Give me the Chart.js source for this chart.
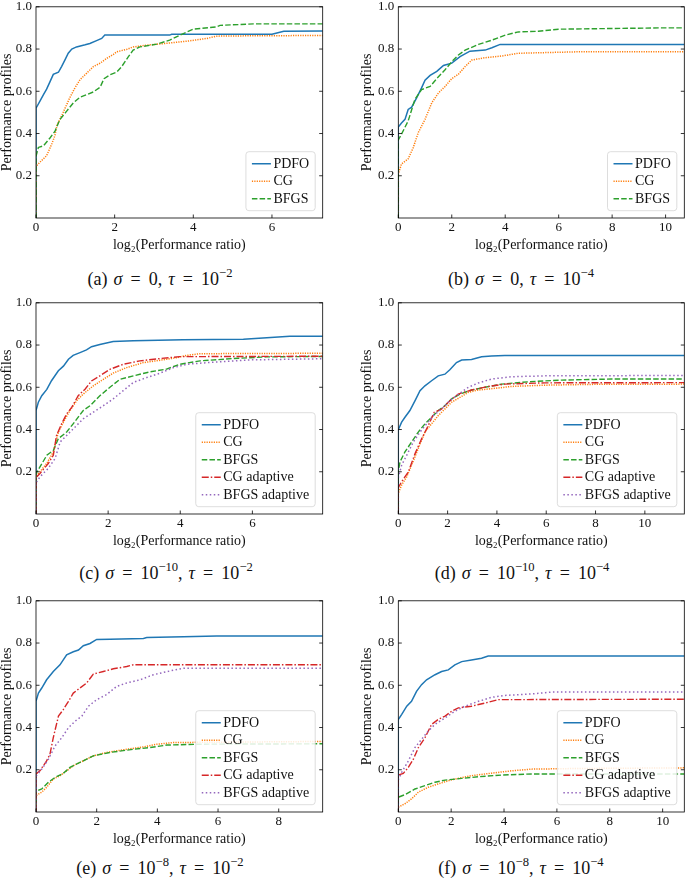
<!DOCTYPE html>
<html>
<head>
<meta charset="utf-8">
<script src="https://cdn.jsdelivr.net/npm/chart.js@4.4.1/dist/chart.umd.min.js"></script>
<style>
  body { margin: 0; background: #fff; width: 685px; height: 881px; position: relative; overflow: hidden; font-family: "Liberation Serif", serif; }
  .panel { position: absolute; }
  .cap { position: absolute; transform: translate(-50%, -50%); font-size: 18px; word-spacing: 0.08em; white-space: nowrap; color: #111; }
  .cap sup { font-size: 0.7em; vertical-align: 0.6em; line-height: 0; word-spacing: 0; }
  .cap .eq { margin: 0 0.12em; }
</style>
</head>
<body>
<canvas id="pa" class="panel" width="340" height="263" style="left:0;top:-5.3px"></canvas>
<canvas id="pb" class="panel" width="325" height="263" style="left:360px;top:-5.3px"></canvas>
<canvas id="pc" class="panel" width="340" height="263" style="left:0;top:291.4px"></canvas>
<canvas id="pd" class="panel" width="325" height="263" style="left:360px;top:291.4px"></canvas>
<canvas id="pe" class="panel" width="340" height="263" style="left:0;top:589.3px"></canvas>
<canvas id="pf" class="panel" width="325" height="263" style="left:360px;top:589.3px"></canvas>

<div class="cap" style="left:160px;top:279px">(a) <i>σ</i> <span class="eq">=</span> 0, <i>τ</i> <span class="eq">=</span> 10<sup>−2</sup></div>
<div class="cap" style="left:521px;top:279px">(b) <i>σ</i> <span class="eq">=</span> 0, <i>τ</i> <span class="eq">=</span> 10<sup>−4</sup></div>
<div class="cap" style="left:166px;top:572.7px">(c) <i>σ</i> <span class="eq">=</span> 10<sup>−10</sup>, <i>τ</i> <span class="eq">=</span> 10<sup>−2</sup></div>
<div class="cap" style="left:522px;top:572.7px">(d) <i>σ</i> <span class="eq">=</span> 10<sup>−10</sup>, <i>τ</i> <span class="eq">=</span> 10<sup>−4</sup></div>
<div class="cap" style="left:160px;top:868.3px">(e) <i>σ</i> <span class="eq">=</span> 10<sup>−8</sup>, <i>τ</i> <span class="eq">=</span> 10<sup>−2</sup></div>
<div class="cap" style="left:521px;top:868.3px">(f) <i>σ</i> <span class="eq">=</span> 10<sup>−8</sup>, <i>τ</i> <span class="eq">=</span> 10<sup>−4</sup></div>

<script>
// solver names and tick labels
const names3 = ["PDFO", "CG", "BFGS"];
const names5 = ["PDFO", "CG", "BFGS", "CG adaptive", "BFGS adaptive"];
const yTicks = [0.2, 0.4, 0.6, 0.8, 1.0];
const xTicksA = [0, 2, 4, 6];
const xTicksB = [0, 2, 4, 6, 8, 10];
const xTicksC = [0, 2, 4, 6];
const xTicksD = [0, 2, 4, 6, 8, 10];
const xTicksE = [0, 2, 4, 6, 8];
const xTicksF = [0, 2, 4, 6, 8, 10];

// (a) sigma = 0, tau = 1e-2   points are [log2 ratio, profile]
const pdfoA = [[0,0],[0,0.52],[0.1,0.553],[0.19,0.584],[0.27,0.61],[0.36,0.647],[0.44,0.68],[0.57,0.69],[0.65,0.717],[0.74,0.75],[0.82,0.78],[0.91,0.80],[1.03,0.81],[1.25,0.82],[1.37,0.826],[1.54,0.84],[1.67,0.85],[1.75,0.866],[3.4,0.866],[3.45,0.87],[6.0,0.87],[6.3,0.884],[7.29,0.886]];
const cgA = [[0,0],[0,0.245],[0.1,0.264],[0.27,0.295],[0.4,0.35],[0.48,0.39],[0.54,0.444],[0.61,0.467],[0.74,0.52],[0.86,0.57],[0.99,0.616],[1.12,0.655],[1.29,0.686],[1.46,0.717],[1.63,0.733],[1.8,0.756],[1.97,0.775],[2.05,0.787],[2.3,0.798],[2.47,0.81],[2.9,0.82],[3.32,0.827],[3.83,0.837],[4.34,0.85],[4.59,0.861],[5.6,0.863],[7.29,0.864]];
const bfgsA = [[0,0],[0,0.292],[0.06,0.334],[0.19,0.342],[0.36,0.38],[0.48,0.41],[0.61,0.467],[0.78,0.506],[0.95,0.545],[1.12,0.572],[1.29,0.584],[1.46,0.597],[1.63,0.619],[1.73,0.66],[1.88,0.678],[2.05,0.69],[2.18,0.717],[2.35,0.764],[2.47,0.795],[2.64,0.81],[3.07,0.823],[3.4,0.842],[3.66,0.866],[4.0,0.894],[4.59,0.905],[4.68,0.912],[5.53,0.919],[7.29,0.919]];

// (b) sigma = 0, tau = 1e-4
const pdfoB = [[0,0],[0,0.431],[0.12,0.45],[0.25,0.467],[0.37,0.514],[0.5,0.525],[0.69,0.57],[0.87,0.616],[1.0,0.652],[1.19,0.675],[1.44,0.694],[1.69,0.722],[2.0,0.733],[2.31,0.764],[2.68,0.79],[3.25,0.795],[3.5,0.806],[3.81,0.822],[10.7,0.822]];
const cgB = [[0,0],[0,0.209],[0.12,0.256],[0.37,0.28],[0.56,0.334],[0.75,0.405],[1.0,0.467],[1.25,0.545],[1.5,0.592],[1.75,0.623],[2.0,0.66],[2.25,0.681],[2.5,0.717],[2.75,0.748],[3.25,0.759],[3.87,0.767],[4.49,0.78],[6.74,0.787],[10.7,0.787]];
const bfgsB = [[0,0],[0,0.37],[0.12,0.397],[0.37,0.46],[0.62,0.561],[0.87,0.608],[1.19,0.623],[1.44,0.66],[1.75,0.702],[2.0,0.74],[2.25,0.772],[2.5,0.795],[3.0,0.822],[3.5,0.842],[4.0,0.866],[4.49,0.881],[5.24,0.884],[5.99,0.894],[9.74,0.9],[10.7,0.9]];

// (c) sigma = 1e-10, tau = 1e-2
const pdfoC = [[0,0],[0,0.49],[0.065,0.529],[0.16,0.56],[0.3,0.59],[0.43,0.631],[0.62,0.678],[0.76,0.70],[0.9,0.733],[1.03,0.751],[1.22,0.764],[1.4,0.777],[1.54,0.792],[1.77,0.803],[2.14,0.817],[2.7,0.82],[4.08,0.825],[5.75,0.827],[6.4,0.834],[7.04,0.842],[7.95,0.842]];
const cgC = [[0,0],[0,0.18],[0.11,0.2],[0.3,0.24],[0.48,0.294],[0.62,0.388],[0.76,0.435],[0.94,0.49],[1.13,0.537],[1.31,0.568],[1.59,0.607],[1.87,0.638],[2.14,0.667],[2.51,0.693],[2.98,0.717],[3.44,0.728],[3.9,0.74],[4.18,0.751],[4.55,0.759],[7.95,0.761]];
const bfgsC = [[0,0],[0,0.192],[0.11,0.223],[0.3,0.278],[0.48,0.301],[0.62,0.357],[0.85,0.388],[1.03,0.427],[1.31,0.49],[1.5,0.513],[1.77,0.56],[2.05,0.6],[2.33,0.638],[2.7,0.654],[3.16,0.673],[3.62,0.686],[3.99,0.709],[4.55,0.725],[5.47,0.736],[6.4,0.744],[7.95,0.746]];
const cgAdC = [[0,0],[0,0.172],[0.11,0.192],[0.34,0.239],[0.48,0.278],[0.57,0.372],[0.71,0.427],[0.85,0.474],[0.99,0.505],[1.17,0.56],[1.36,0.591],[1.54,0.63],[1.77,0.654],[2.05,0.685],[2.42,0.709],[2.88,0.725],[3.44,0.736],[3.99,0.745],[7.95,0.747]];
const bfgsAdC = [[0,0],[0,0.148],[0.11,0.176],[0.34,0.216],[0.53,0.263],[0.67,0.341],[0.85,0.372],[1.08,0.411],[1.31,0.451],[1.59,0.482],[1.87,0.513],[2.14,0.545],[2.42,0.584],[2.7,0.623],[3.07,0.646],[3.44,0.667],[3.81,0.693],[4.18,0.709],[5.01,0.72],[6.0,0.73],[7.95,0.735]];

// (d) sigma = 1e-10, tau = 1e-4
const pdfoD = [[0,0],[0,0.399],[0.135,0.435],[0.27,0.458],[0.47,0.49],[0.68,0.537],[0.88,0.584],[1.08,0.607],[1.35,0.631],[1.62,0.654],[1.89,0.662],[2.09,0.683],[2.36,0.717],[2.57,0.729],[2.97,0.732],[3.38,0.745],[3.78,0.748],[4.32,0.751],[11.6,0.751]];
const cgD = [[0,0],[0,0.098],[0.135,0.137],[0.34,0.176],[0.54,0.231],[0.81,0.31],[1.08,0.388],[1.35,0.427],[1.62,0.466],[1.89,0.497],[2.16,0.529],[2.5,0.552],[2.84,0.576],[3.24,0.587],[3.92,0.595],[4.59,0.604],[5.95,0.61],[8.0,0.614],[11.6,0.615]];
const bfgsD = [[0,0],[0,0.203],[0.07,0.247],[0.27,0.294],[0.54,0.341],[0.81,0.388],[1.08,0.427],[1.35,0.458],[1.62,0.49],[1.89,0.513],[2.16,0.545],[2.5,0.568],[2.97,0.587],[3.51,0.6],[4.19,0.615],[5.27,0.626],[6.62,0.634],[8.65,0.639],[11.6,0.639]];
const cgAdD = [[0,0],[0,0.125],[0.135,0.153],[0.41,0.2],[0.68,0.286],[0.95,0.357],[1.22,0.42],[1.46,0.482],[1.76,0.497],[2.03,0.529],[2.43,0.568],[2.97,0.587],[3.65,0.604],[4.32,0.615],[5.95,0.621],[11.6,0.622]];
const bfgsAdD = [[0,0],[0,0.172],[0.135,0.231],[0.34,0.278],[0.61,0.341],[0.88,0.388],[1.15,0.427],[1.42,0.466],[1.76,0.497],[2.09,0.537],[2.5,0.572],[2.84,0.6],[3.24,0.62],[3.78,0.639],[4.59,0.65],[5.95,0.654],[11.6,0.656]];

// (e) sigma = 1e-8, tau = 1e-2
const pdfoE = [[0,0],[0,0.524],[0.08,0.563],[0.19,0.587],[0.35,0.626],[0.57,0.665],[0.79,0.697],[1.01,0.744],[1.23,0.759],[1.4,0.767],[1.56,0.787],[1.78,0.798],[2.0,0.817],[2.44,0.818],[3.54,0.822],[3.65,0.826],[4.86,0.83],[5.96,0.833],[9.45,0.833]];
const cgE = [[0,0],[0,0.078],[0.19,0.094],[0.35,0.117],[0.57,0.156],[0.79,0.172],[1.01,0.195],[1.23,0.219],[1.56,0.242],[1.89,0.266],[2.33,0.282],[2.99,0.297],[3.54,0.308],[3.98,0.321],[4.53,0.329],[9.45,0.334]];
const bfgsE = [[0,0],[0,0.098],[0.19,0.109],[0.41,0.141],[0.63,0.164],[0.9,0.183],[1.12,0.211],[1.45,0.235],[1.89,0.266],[2.44,0.282],[3.21,0.297],[3.76,0.305],[4.31,0.317],[5.41,0.321],[9.45,0.323]];
const cgAdE = [[0,0],[0,0.18],[0.13,0.195],[0.35,0.242],[0.46,0.274],[0.57,0.352],[0.74,0.454],[0.9,0.485],[1.07,0.524],[1.23,0.563],[1.45,0.587],[1.67,0.611],[1.89,0.653],[2.22,0.665],[2.55,0.678],[2.99,0.689],[3.21,0.697],[9.45,0.697]];
const bfgsAdE = [[0,0],[0,0.17],[0.19,0.203],[0.41,0.25],[0.63,0.313],[0.85,0.352],[1.07,0.399],[1.29,0.43],[1.51,0.454],[1.73,0.501],[2.0,0.532],[2.33,0.556],[2.66,0.595],[2.99,0.611],[3.43,0.626],[3.87,0.65],[4.42,0.668],[4.86,0.681],[9.45,0.681]];

// (f) sigma = 1e-8, tau = 1e-4
const pdfoF = [[0,0],[0,0.438],[0.13,0.462],[0.32,0.501],[0.5,0.524],[0.69,0.571],[0.88,0.603],[1.07,0.626],[1.39,0.65],[1.64,0.665],[1.89,0.673],[2.14,0.697],[2.4,0.712],[2.77,0.72],[3.15,0.728],[3.4,0.739],[10.82,0.739]];
const cgF = [[0,0],[0,0.023],[0.25,0.039],[0.5,0.062],[0.76,0.094],[1.13,0.117],[1.51,0.133],[2.02,0.153],[2.77,0.172],[3.53,0.184],[4.29,0.195],[5.04,0.203],[6.81,0.206],[10.82,0.209]];
const bfgsF = [[0,0],[0,0.07],[0.25,0.082],[0.63,0.109],[1.01,0.125],[1.39,0.141],[1.77,0.151],[2.4,0.159],[3.03,0.167],[3.91,0.175],[5.04,0.18],[10.82,0.18]];
const cgAdF = [[0,0],[0,0.175],[0.19,0.183],[0.38,0.211],[0.57,0.25],[0.76,0.305],[1.01,0.352],[1.26,0.415],[1.51,0.438],[1.77,0.454],[2.02,0.477],[2.27,0.493],[2.77,0.501],[3.28,0.516],[3.78,0.532],[10.82,0.534]];
const bfgsAdF = [[0,0],[0,0.153],[0.13,0.188],[0.38,0.242],[0.63,0.305],[0.88,0.344],[1.13,0.383],[1.39,0.415],[1.77,0.446],[2.14,0.477],[2.52,0.501],[3.03,0.524],[3.53,0.543],[4.04,0.552],[5.04,0.559],[5.8,0.568],[10.82,0.568]];

const FONT = '"Liberation Serif", "DejaVu Serif", serif';
const INK = '#111';
Chart.defaults.font.family = FONT;
Chart.defaults.color = INK;

// line style per solver, same order as names5
const styles = [
  { color: '#1f77b4', dash: [], width: 1.5 },
  { color: '#ff7f0e', dash: [1.2, 1.2], width: 1.5 },
  { color: '#2ca02c', dash: [5.5, 2.2], width: 1.4 },
  { color: '#d62728', dash: [7, 2, 1.5, 2], width: 1.4 },
  { color: '#9467bd', dash: [1.5, 2.5], width: 1.5 }
];

// frame, inward ticks and a matplotlib-like legend in the lower right
const framePlugin = {
  id: 'frame',
  afterDraw(chart) {
    const { ctx, chartArea: a, scales: { x, y } } = chart;
    ctx.save();
    ctx.strokeStyle = '#000';
    ctx.lineWidth = 0.8;
    ctx.setLineDash([]);
    ctx.strokeRect(a.left, a.top, a.right - a.left, a.bottom - a.top);
    ctx.beginPath();
    x.ticks.forEach(t => {
      const px = x.getPixelForValue(t.value);
      ctx.moveTo(px, a.bottom); ctx.lineTo(px, a.bottom - 3.5);
    });
    y.ticks.forEach(t => {
      const py = y.getPixelForValue(t.value);
      ctx.moveTo(a.left, py); ctx.lineTo(a.left + 3.5, py);
      ctx.moveTo(a.right, py); ctx.lineTo(a.right - 3.5, py);
    });
    ctx.stroke();

    // legend
    const sets = chart.data.datasets;
    ctx.font = '14px ' + FONT;
    const tw = Math.max(...sets.map(d => ctx.measureText(d.label).width));
    const rowH = 17.5, padX = 6, hLen = 19;
    const w = padX + hLen + 2.5 + tw + padX;
    const h = sets.length * rowH + 6.5;
    const bx = a.right - 7.5 - w, by = a.bottom - 7.3 - h;
    ctx.beginPath();
    ctx.roundRect(bx, by, w, h, 3);
    ctx.fillStyle = 'rgba(255,255,255,0.85)';
    ctx.fill();
    ctx.strokeStyle = '#d4d4d4';
    ctx.lineWidth = 0.8;
    ctx.stroke();
    sets.forEach((d, i) => {
      const cy = by + 3.3 + rowH * i + rowH / 2;
      ctx.beginPath();
      ctx.setLineDash(d.borderDash);
      ctx.strokeStyle = d.borderColor;
      ctx.lineWidth = d.borderWidth;
      ctx.moveTo(bx + padX, cy);
      ctx.lineTo(bx + padX + hLen, cy);
      ctx.stroke();
      ctx.setLineDash([]);
      ctx.fillStyle = INK;
      ctx.textBaseline = 'middle';
      ctx.textAlign = 'left';
      ctx.fillText(d.label, bx + padX + hLen + 2.5, cy + 0.5);
    });
    ctx.restore();
  }
};

function makeChart(id, names, series, xTicks, xMax, yWidth, padRight) {
  const datasets = series.map((pts, i) => ({
    label: names[i],
    data: pts.map(p => ({ x: p[0], y: p[1] })),
    borderColor: styles[i].color,
    borderDash: styles[i].dash,
    borderWidth: styles[i].width,
    pointRadius: 0,
    fill: false,
    tension: 0,
    order: series.length - i
  }));
  return new Chart(document.getElementById(id), {
    type: 'line',
    data: { datasets: datasets },
    options: {
      responsive: false,
      animation: false,
      layout: { padding: { top: 10, right: padRight, left: 0, bottom: 0 } },
      plugins: { legend: { display: false }, tooltip: { enabled: false } },
      scales: {
        x: {
          type: 'linear', min: 0, max: xMax,
          afterBuildTicks: s => { s.ticks = xTicks.map(v => ({ value: v })); },
          afterFit: s => { s.height = 40; },
          grid: { display: false, drawTicks: false },
          border: { display: false },
          ticks: { padding: 2, color: INK, font: { family: FONT, size: 13 }, callback: v => String(v) },
          title: { display: true, text: 'log₂(Performance ratio)', color: INK, padding: { top: 0, bottom: 4.6 }, font: { family: FONT, size: 14 } }
        },
        y: {
          type: 'linear', min: 0, max: 1,
          afterBuildTicks: s => { s.ticks = yTicks.map(v => ({ value: v })); },
          afterFit: s => { s.width = yWidth; },
          grid: { display: false, drawTicks: false },
          border: { display: false },
          ticks: { padding: 4, color: INK, font: { family: FONT, size: 13 }, callback: v => v.toFixed(1) },
          title: { display: true, text: 'Performance profiles', color: INK, padding: { top: -1, bottom: 0 }, font: { family: FONT, size: 14 } }
        }
      }
    },
    plugins: [framePlugin]
  });
}

makeChart('pa', names3, [pdfoA, cgA, bfgsA], xTicksA, 7.29, 36, 17.3);
makeChart('pb', names3, [pdfoB, cgB, bfgsB], xTicksB, 10.7, 38.3, 0.7);
makeChart('pc', names5, [pdfoC, cgC, bfgsC, cgAdC, bfgsAdC], xTicksC, 7.95, 36, 17.3);
makeChart('pd', names5, [pdfoD, cgD, bfgsD, cgAdD, bfgsAdD], xTicksD, 11.6, 38.3, 0.7);
makeChart('pe', names5, [pdfoE, cgE, bfgsE, cgAdE, bfgsAdE], xTicksE, 9.45, 36, 17.3);
makeChart('pf', names5, [pdfoF, cgF, bfgsF, cgAdF, bfgsAdF], xTicksF, 10.82, 38.3, 0.7);
</script>
</body>
</html>
